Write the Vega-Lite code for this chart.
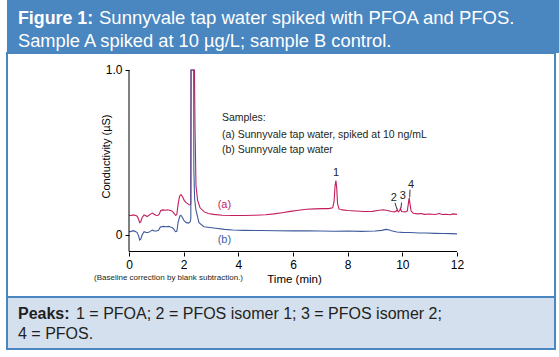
{
  "$schema": "https://vega.github.io/schema/vega-lite/v6.json",
  "padding": {"left": 6, "top": 0, "right": 0, "bottom": 8},
  "background": "white",
  "spacing": 0,
  "bounds": "flush",
  "title": {"text": "1 = PFOA; 2 = PFOS isomer 1; 3 = PFOS isomer 2;", "anchor": "start", "frame": "group", "orient": "top", "offset": -321.8, "dx": 69, "fontSize": 16, "fontWeight": "normal", "color": "#231f20"},
  "config": {"font": "Liberation Sans", "title": {"font": "Liberation Sans", "subtitleFont": "Liberation Sans"}},
  "datasets": {
    "traces": [
      {"s":"a","t":0,"v":0.12},{"s":"a","t":0.08,"v":0.118},{"s":"a","t":0.15,"v":0.122},{"s":"a","t":0.22,"v":0.12},{"s":"a","t":0.3,"v":0.114},{"s":"a","t":0.35,"v":0.095},{"s":"a","t":0.39,"v":0.075},{"s":"a","t":0.43,"v":0.08},{"s":"a","t":0.48,"v":0.105},{"s":"a","t":0.55,"v":0.122},{"s":"a","t":0.6,"v":0.118},{"s":"a","t":0.66,"v":0.112},{"s":"a","t":0.72,"v":0.118},{"s":"a","t":0.8,"v":0.128},{"s":"a","t":0.86,"v":0.133},{"s":"a","t":0.92,"v":0.126},{"s":"a","t":0.98,"v":0.12},{"s":"a","t":1.05,"v":0.118},{"s":"a","t":1.1,"v":0.125},{"s":"a","t":1.16,"v":0.148},{"s":"a","t":1.24,"v":0.152},{"s":"a","t":1.32,"v":0.15},{"s":"a","t":1.4,"v":0.153},{"s":"a","t":1.48,"v":0.15},{"s":"a","t":1.55,"v":0.147},{"s":"a","t":1.6,"v":0.142},{"s":"a","t":1.66,"v":0.128},{"s":"a","t":1.71,"v":0.118},{"s":"a","t":1.75,"v":0.125},{"s":"a","t":1.8,"v":0.19},{"s":"a","t":1.85,"v":0.235},{"s":"a","t":1.9,"v":0.245},{"s":"a","t":1.96,"v":0.232},{"s":"a","t":2.02,"v":0.21},{"s":"a","t":2.08,"v":0.198},{"s":"a","t":2.14,"v":0.19},{"s":"a","t":2.2,"v":0.183},{"s":"a","t":2.24,"v":0.182},{"s":"a","t":2.26,"v":0.19},{"s":"a","t":2.27,"v":1.0},{"s":"a","t":2.395,"v":1.0},{"s":"a","t":2.415,"v":0.65},{"s":"a","t":2.45,"v":0.3},{"s":"a","t":2.51,"v":0.21},{"s":"a","t":2.6,"v":0.165},{"s":"a","t":2.75,"v":0.14},{"s":"a","t":2.9,"v":0.13},{"s":"a","t":3.1,"v":0.125},{"s":"a","t":3.4,"v":0.12},{"s":"a","t":3.8,"v":0.118},{"s":"a","t":4.2,"v":0.118},{"s":"a","t":4.6,"v":0.12},{"s":"a","t":5.0,"v":0.123},{"s":"a","t":5.3,"v":0.128},{"s":"a","t":5.6,"v":0.135},{"s":"a","t":5.9,"v":0.143},{"s":"a","t":6.2,"v":0.15},{"s":"a","t":6.5,"v":0.156},{"s":"a","t":6.8,"v":0.158},{"s":"a","t":7.1,"v":0.16},{"s":"a","t":7.3,"v":0.16},{"s":"a","t":7.45,"v":0.165},{"s":"a","t":7.5,"v":0.2},{"s":"a","t":7.54,"v":0.3},{"s":"a","t":7.57,"v":0.33},{"s":"a","t":7.6,"v":0.28},{"s":"a","t":7.63,"v":0.19},{"s":"a","t":7.68,"v":0.158},{"s":"a","t":7.8,"v":0.152},{"s":"a","t":8.0,"v":0.148},{"s":"a","t":8.3,"v":0.145},{"s":"a","t":8.6,"v":0.142},{"s":"a","t":8.9,"v":0.143},{"s":"a","t":9.1,"v":0.148},{"s":"a","t":9.3,"v":0.153},{"s":"a","t":9.45,"v":0.148},{"s":"a","t":9.6,"v":0.142},{"s":"a","t":9.72,"v":0.14},{"s":"a","t":9.78,"v":0.145},{"s":"a","t":9.81,"v":0.155},{"s":"a","t":9.85,"v":0.14},{"s":"a","t":9.9,"v":0.148},{"s":"a","t":9.93,"v":0.16},{"s":"a","t":9.97,"v":0.142},{"s":"a","t":10.1,"v":0.14},{"s":"a","t":10.18,"v":0.145},{"s":"a","t":10.22,"v":0.19},{"s":"a","t":10.25,"v":0.225},{"s":"a","t":10.28,"v":0.19},{"s":"a","t":10.32,"v":0.145},{"s":"a","t":10.4,"v":0.132},{"s":"a","t":10.55,"v":0.128},{"s":"a","t":10.7,"v":0.13},{"s":"a","t":10.8,"v":0.125},{"s":"a","t":11.0,"v":0.127},{"s":"a","t":11.2,"v":0.124},{"s":"a","t":11.35,"v":0.13},{"s":"a","t":11.45,"v":0.124},{"s":"a","t":11.6,"v":0.126},{"s":"a","t":11.75,"v":0.123},{"s":"a","t":11.85,"v":0.128},{"s":"a","t":12.0,"v":0.125},
      {"s":"b","t":0,"v":0.02},{"s":"b","t":0.08,"v":0.022},{"s":"b","t":0.15,"v":0.026},{"s":"b","t":0.22,"v":0.022},{"s":"b","t":0.3,"v":0.015},{"s":"b","t":0.35,"v":-0.005},{"s":"b","t":0.39,"v":-0.03},{"s":"b","t":0.43,"v":-0.025},{"s":"b","t":0.48,"v":0.0},{"s":"b","t":0.55,"v":0.02},{"s":"b","t":0.62,"v":0.016},{"s":"b","t":0.7,"v":0.015},{"s":"b","t":0.78,"v":0.022},{"s":"b","t":0.85,"v":0.03},{"s":"b","t":0.92,"v":0.025},{"s":"b","t":1.0,"v":0.024},{"s":"b","t":1.08,"v":0.028},{"s":"b","t":1.15,"v":0.048},{"s":"b","t":1.25,"v":0.052},{"s":"b","t":1.35,"v":0.05},{"s":"b","t":1.45,"v":0.052},{"s":"b","t":1.52,"v":0.048},{"s":"b","t":1.58,"v":0.045},{"s":"b","t":1.64,"v":0.035},{"s":"b","t":1.7,"v":0.02},{"s":"b","t":1.75,"v":0.022},{"s":"b","t":1.8,"v":0.08},{"s":"b","t":1.86,"v":0.115},{"s":"b","t":1.9,"v":0.12},{"s":"b","t":1.96,"v":0.105},{"s":"b","t":2.02,"v":0.085},{"s":"b","t":2.1,"v":0.075},{"s":"b","t":2.18,"v":0.072},{"s":"b","t":2.24,"v":0.08},{"s":"b","t":2.262,"v":0.1},{"s":"b","t":2.27,"v":1.0},{"s":"b","t":2.365,"v":1.0},{"s":"b","t":2.372,"v":0.4},{"s":"b","t":2.4,"v":0.22},{"s":"b","t":2.45,"v":0.15},{"s":"b","t":2.56,"v":0.075},{"s":"b","t":2.74,"v":0.05},{"s":"b","t":3.1,"v":0.042},{"s":"b","t":3.5,"v":0.034},{"s":"b","t":3.8,"v":0.03},{"s":"b","t":4.2,"v":0.028},{"s":"b","t":4.8,"v":0.027},{"s":"b","t":5.4,"v":0.026},{"s":"b","t":6.0,"v":0.025},{"s":"b","t":6.5,"v":0.026},{"s":"b","t":7.0,"v":0.024},{"s":"b","t":7.5,"v":0.023},{"s":"b","t":8.0,"v":0.024},{"s":"b","t":8.5,"v":0.022},{"s":"b","t":9.0,"v":0.024},{"s":"b","t":9.25,"v":0.028},{"s":"b","t":9.4,"v":0.034},{"s":"b","t":9.5,"v":0.032},{"s":"b","t":9.6,"v":0.026},{"s":"b","t":9.8,"v":0.018},{"s":"b","t":10.0,"v":0.016},{"s":"b","t":10.3,"v":0.015},{"s":"b","t":10.6,"v":0.012},{"s":"b","t":10.9,"v":0.012},{"s":"b","t":11.2,"v":0.01},{"s":"b","t":11.5,"v":0.009},{"s":"b","t":11.8,"v":0.008},{"s":"b","t":12.0,"v":0.007}
    ]
  },
  "vconcat": [
    {
      "width": 553, "height": 53,
      "view": {"fill": "#4a86c0", "stroke": null},
      "title": {"text": "Figure 1:", "subtitle": "Sample A spiked at 10 µg/L; sample B control.", "anchor": "start", "frame": "group", "orient": "top", "offset": -50.4, "dx": 11, "fontSize": 17.8, "fontWeight": "bold", "color": "white", "subtitleColor": "white", "subtitleFontSize": 18.3, "subtitleFontWeight": "normal", "subtitlePadding": 5.5},
      "data": {"values": []},
      "mark": "text"
    },
    {
      "width": 548, "height": 244,
      "view": {"fill": "white", "stroke": "#4a86c0", "strokeWidth": 2},
      "title": {"text": "Sunnyvale tap water spiked with PFOA and PFOS.", "anchor": "start", "frame": "group", "orient": "top", "offset": 25.8, "dx": 92, "fontSize": 18.5, "fontWeight": "normal", "color": "white"},
      "layer": [
        {
          "data": {"name": "traces"},
          "mark": {"type": "line", "strokeWidth": 1.1},
          "encoding": {
            "x": {"field": "t", "type": "quantitative", "scale": {"domain": [-4.4634, 15.585], "nice": false, "zero": false},
              "axis": {"values": [0, 2, 4, 6, 8, 10, 12], "format": "d", "domain": false, "grid": false, "offset": -45, "ticks": true, "tickSize": 4, "tickColor": "black", "tickWidth": 1, "labels": true, "labelFontSize": 12, "labelColor": "black", "labelPadding": 3, "title": "Time (min)", "titleFontSize": 11.5, "titleFontWeight": "normal", "titleColor": "black", "titleX": 287, "titleY": 27, "titleBaseline": "middle", "titleAlign": "center"}},
            "y": {"field": "v", "type": "quantitative", "scale": {"domain": [-0.3758, 1.103], "nice": false, "zero": false},
              "axis": {"values": [0, 1], "labelExpr": "datum.value == 0 ? '0' : '1.0'", "domain": false, "grid": false, "offset": -122, "ticks": true, "tickSize": 4, "tickColor": "black", "tickWidth": 1, "labels": true, "labelFontSize": 12, "labelColor": "black", "labelPadding": 3, "title": "Conductivity (µS)", "titleFontSize": 11, "titleFontWeight": "normal", "titleColor": "black", "titleX": -23, "titleY": 103, "titleAngle": -90, "titleBaseline": "middle", "titleAlign": "center"}},
            "color": {"field": "s", "type": "nominal", "scale": {"domain": ["a", "b"], "range": ["#c21d5d", "#3f5b9c"]}, "legend": null}
          }
        },
        {
          "data": {"values": [{}]},
          "mark": {"type": "rule", "color": "black", "strokeWidth": 1},
          "encoding": {
            "x": {"datum": 0, "type": "quantitative"},
            "x2": {"datum": 12},
            "y": {"datum": -0.1, "type": "quantitative"}
          }
        },
        {
          "data": {"values": [{}]},
          "mark": {"type": "rule", "color": "black", "strokeWidth": 1},
          "encoding": {
            "x": {"datum": 0, "type": "quantitative"},
            "y": {"datum": -0.1, "type": "quantitative"},
            "y2": {"datum": 1.0}
          }
        },
        {
          "data": {"values": [
            {"t1": 9.73, "v1": 0.195, "t2": 9.8, "v2": 0.158},
            {"t1": 9.97, "v1": 0.196, "t2": 9.95, "v2": 0.162},
            {"t1": 10.28, "v1": 0.275, "t2": 10.27, "v2": 0.228}
          ]},
          "mark": {"type": "rule", "color": "black", "strokeWidth": 0.8},
          "encoding": {
            "x": {"field": "t1", "type": "quantitative"},
            "x2": {"field": "t2"},
            "y": {"field": "v1", "type": "quantitative"},
            "y2": {"field": "v2"}
          }
        },
        {
          "data": {"values": [
            {"t": 3.4, "v": 0.707, "label": "Samples:"},
            {"t": 3.4, "v": 0.606, "label": "(a) Sunnyvale tap water, spiked at 10 ng/mL"},
            {"t": 3.4, "v": 0.515, "label": "(b) Sunnyvale tap water"}
          ]},
          "mark": {"type": "text", "align": "left", "baseline": "middle", "fontSize": 10.5, "color": "#231f20"},
          "encoding": {
            "x": {"field": "t", "type": "quantitative"},
            "y": {"field": "v", "type": "quantitative"},
            "text": {"field": "label"}
          }
        },
        {
          "data": {"values": [
            {"t": 3.245, "v": 0.182, "label": "(a)", "s": "a"},
            {"t": 3.245, "v": -0.03, "label": "(b)", "s": "b"}
          ]},
          "mark": {"type": "text", "align": "left", "baseline": "middle", "fontSize": 11},
          "encoding": {
            "x": {"field": "t", "type": "quantitative"},
            "y": {"field": "v", "type": "quantitative"},
            "text": {"field": "label"},
            "color": {"field": "s", "type": "nominal", "legend": null}
          }
        },
        {
          "data": {"values": [
            {"t": 7.574, "v": 0.378, "label": "1"},
            {"t": 9.685, "v": 0.222, "label": "2"},
            {"t": 10.014, "v": 0.236, "label": "3"},
            {"t": 10.318, "v": 0.303, "label": "4"}
          ]},
          "mark": {"type": "text", "align": "center", "baseline": "middle", "fontSize": 11, "color": "#231f20"},
          "encoding": {
            "x": {"field": "t", "type": "quantitative"},
            "y": {"field": "v", "type": "quantitative"},
            "text": {"field": "label"}
          }
        },
        {
          "data": {"values": [
            {"t": -1.28, "v": -0.26, "label": "(Baseline correction by blank subtraction.)"}
          ]},
          "mark": {"type": "text", "align": "left", "baseline": "middle", "fontSize": 8, "color": "#231f20"},
          "encoding": {
            "x": {"field": "t", "type": "quantitative"},
            "y": {"field": "v", "type": "quantitative"},
            "text": {"field": "label"}
          }
        }
      ]
    },
    {
      "width": 548, "height": 52,
      "view": {"fill": "#d4e0ee", "stroke": "#4a86c0", "strokeWidth": 2},
      "title": {"text": "Peaks:", "subtitle": "4 = PFOS.", "anchor": "start", "frame": "group", "orient": "top", "offset": -44.8, "dx": 11, "fontSize": 16, "fontWeight": "bold", "color": "#231f20", "subtitleColor": "#231f20", "subtitleFontSize": 16, "subtitleFontWeight": "normal", "subtitlePadding": 4},
      "data": {"values": []},
      "mark": "text"
    }
  ]
}
